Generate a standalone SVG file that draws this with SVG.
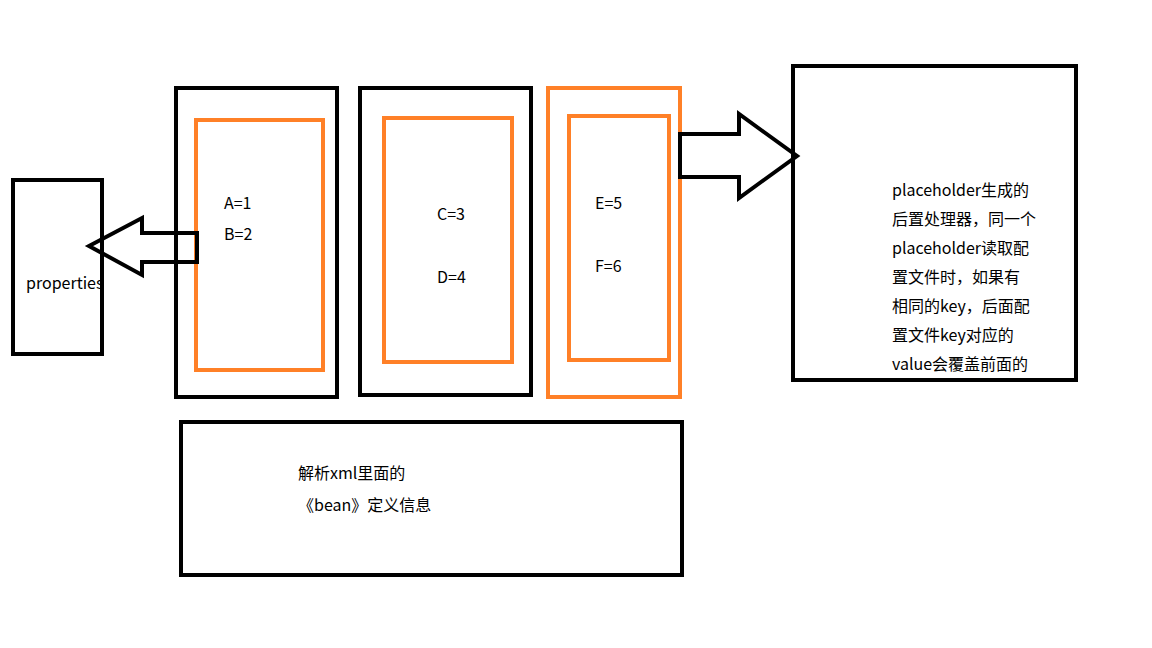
<svg xmlns="http://www.w3.org/2000/svg" width="1152" height="648" viewBox="0 0 1152 648">
<style>
.k{fill:none;stroke:#000;stroke-width:4}
.o{fill:none;stroke:#FF8027;stroke-width:4}
text{font-family:"Noto Sans CJK SC","Noto Sans",sans-serif;font-size:16px;fill:#000}
</style>
<rect width="1152" height="648" fill="#fff"/>
<g id="properties"><rect class="k" x="13" y="180" width="89" height="174"/><text x="26" y="289">properties</text></g>
<g id="box1"><rect class="k" x="176" y="88" width="161" height="309"/><rect class="o" x="196" y="120" width="127" height="250"/><text x="224" y="209">A=1</text><text x="224" y="240">B=2</text></g>
<g id="box2"><rect class="k" x="360" y="88" width="171" height="307"/><rect class="o" x="384" y="118" width="128" height="244"/><text x="437" y="220">C=3</text><text x="437" y="283">D=4</text></g>
<g id="box3"><rect class="o" x="548" y="88" width="132" height="309"/><rect class="o" x="569" y="116" width="100" height="244"/><text x="595" y="209">E=5</text><text x="595" y="272">F=6</text></g>
<g id="processor"><rect class="k" x="793" y="66" width="283" height="314"/>
<text x="892" y="196">placeholder生成的</text>
<text x="892" y="225">后置处理器，同一个</text>
<text x="892" y="254">placeholder读取配</text>
<text x="892" y="283">置文件时，如果有</text>
<text x="892" y="312">相同的key，后面配</text>
<text x="892" y="341">置文件key对应的</text>
<text x="892" y="370">value会覆盖前面的</text></g>
<g id="parse"><rect class="k" x="181" y="422" width="501" height="153"/><text x="298" y="479">解析xml里面的</text><text x="298" y="511">《bean》定义信息</text></g>
<g id="connectors">
<polygon class="k" points="197,233 142,233 142,218 89,246 142,275 142,262 197,262"/>
<polygon class="k" points="680,134 739,134 739,114 797,156 739,198 739,177 680,177"/>
</g>
</svg>
